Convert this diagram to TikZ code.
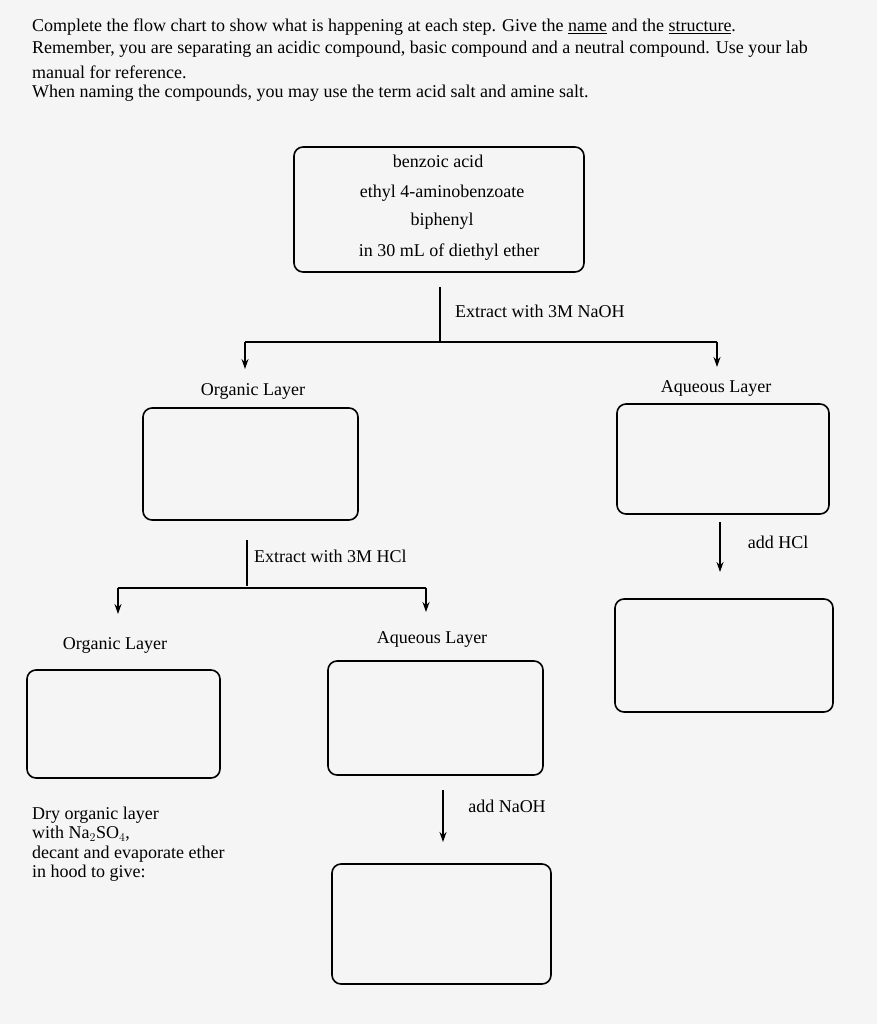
\documentclass[tikz,border=0pt]{standalone}
\usepackage{fontspec}
\setmainfont{Liberation Serif}
\usetikzlibrary{arrows.meta}
\begin{document}
\begin{tikzpicture}[x=1pt,y=-1pt,
  bx/.style={draw=black,line width=1.6pt,rounded corners=9pt},
  ln/.style={line width=1.4pt},
  ar/.style={line width=1.4pt,-{Stealth[length=10pt,width=7pt]}},
  tx/.style={font=\fontsize{18}{20}\selectfont,inner sep=0pt},
  lt/.style={tx,anchor=west}]
\fill[white!93!blue!3!gray!8] (0,0) rectangle (877,1024);
\useasboundingbox (0,0) rectangle (877,1024);
\node[lt] (h1) at (32,27) {Complete the flow chart to show what is happening at each step. Give the \underline{name} and the \underline{structure}.};
\node[lt] (h2) at (32,49) {Remember, you are separating an acidic compound, basic compound and a neutral compound. Use your lab};
\node[lt] (h3) at (32,72) {manual for reference.};
\node[lt] (h4) at (32,93) {When naming the compounds, you may use the term acid salt and amine salt.};
\draw[bx] (294,147) rectangle (584,272);
\node[tx] (t1) at (438,161) {benzoic acid};
\node[tx] (t2) at (442,193) {ethyl 4-aminobenzoate};
\node[tx] (t3) at (442,221) {biphenyl};
\node[tx] (t4) at (449,252) {in 30 mL of diethyl ether};
\coordinate (a1) at (440,287); \coordinate (a2) at (440,342);
\draw[ln] (a1) -- (a2);
\node[lt] (e1) at (455,311) {Extract with 3M NaOH};
\coordinate (l1) at (245,342); \coordinate (r1) at (717,342);
\draw[ln] (l1) -- (r1);
\coordinate (l1e) at (245,369); \coordinate (r1e) at (717,367);
\draw[ar] (l1) -- (l1e); \draw[ar] (r1) -- (r1e);
\node[tx] (ol1) at (253,391) {Organic Layer};
\draw[bx] (143,408) rectangle (358,520);
\node[tx] (aq1) at (716,388) {Aqueous Layer};
\draw[bx] (617,404) rectangle (829,514);
\coordinate (b1) at (247,540); \coordinate (b2) at (247,586);
\draw[ln] (b1) -- (b2);
\node[lt] (e2) at (254,556) {Extract with 3M HCl};
\coordinate (l2) at (118,588); \coordinate (r2) at (426,588);
\draw[ln] (l2) -- (r2);
\coordinate (l2e) at (118,614); \coordinate (r2e) at (426,612);
\draw[ar] (l2) -- (l2e); \draw[ar] (r2) -- (r2e);
\node[tx] (ol2) at (115,645) {Organic Layer};
\draw[bx] (27,670) rectangle (220,778);
\node[tx] (aq2) at (432,639) {Aqueous Layer};
\draw[bx] (328,661) rectangle (543,775);
\coordinate (c1) at (720,522); \coordinate (c2) at (720,572);
\draw[ar] (c1) -- (c2);
\node[tx] (hcl) at (778,542) {add HCl};
\draw[bx] (615,599) rectangle (833,712);
\coordinate (d1) at (443,790); \coordinate (d2) at (443,842);
\draw[ar] (d1) -- (d2);
\node[tx] (naoh) at (507,806) {add NaOH};
\draw[bx] (332,864) rectangle (551,984);
\node[lt] (g1) at (32,815) {Dry organic layer};
\node[lt] (g2) at (32,834) {with Na$_2$SO$_4$,};
\node[lt] (g3) at (32,854) {decant and evaporate ether};
\node[lt] (g4) at (32,873) {in hood to give:};
\end{tikzpicture}
\end{document}
